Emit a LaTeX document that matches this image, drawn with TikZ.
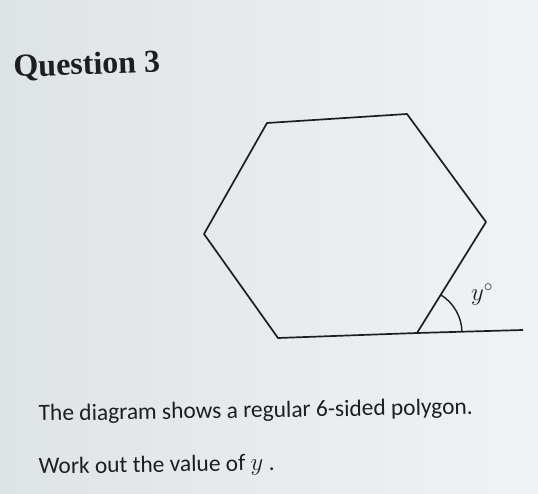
\documentclass[tikz,border=0pt]{standalone}
\usepackage{fontspec}
\setmainfont{Carlito}
\newfontfamily\headfont{Liberation Serif}
\definecolor{screenL}{RGB}{222,227,230}
\definecolor{screenR}{RGB}{240,243,245}
\definecolor{ink}{RGB}{30,30,33}

\begin{document}
\begin{tikzpicture}[x=1pt,y=1pt,line width=1.7pt,line join=round]
\shade[left color=screenL,right color=screenR] (0,0) rectangle (538,493);
\useasboundingbox (0,0) rectangle (538,493);

\node[anchor=base west,inner sep=0pt,rotate=2,text=ink] (title) at (13,416) {\headfont\bfseries\fontsize{32}{36}\selectfont Question 3};

\coordinate (A) at (267,370);
\coordinate (B) at (407,379);
\coordinate (C) at (486,271);
\coordinate (D) at (417,160);
\coordinate (E) at (278,155);
\coordinate (F) at (204,259);
\coordinate (G) at (523,163);
\draw[ink] (A) -- (B) -- (C) -- (D) -- (E) -- (F) -- cycle;
\draw[ink] (D) -- (G);
\draw[ink,line width=1.4pt] ([shift={(1.6:45)}]D) arc (1.6:58:45);
\node[text=ink] (ylab) at (482,198) {\fontsize{24}{28}\selectfont$y^{\circ}$};

\node[anchor=base west,inner sep=0pt,rotate=0.9,text=ink] (line1) at (38,72) {\fontsize{23.4}{28}\selectfont The diagram shows a regular 6-sided polygon.};
\node[anchor=base west,inner sep=0pt,rotate=0.9,text=ink] (line2) at (38,19) {\fontsize{23.4}{28}\selectfont Work out the value of $y$ .};
\end{tikzpicture}
\end{document}
